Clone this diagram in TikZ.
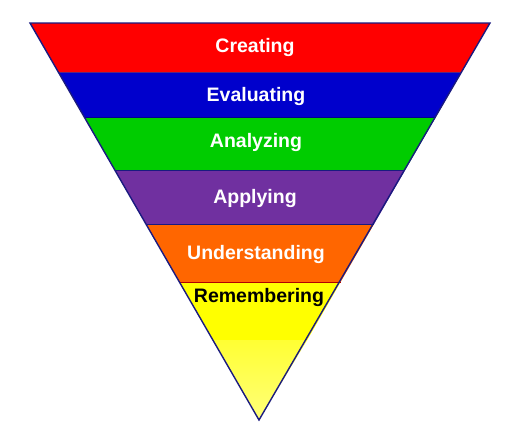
\documentclass[tikz,border=0pt]{standalone}
\usepackage{fontspec}
\setmainfont{Liberation Sans}
\begin{document}
\begin{tikzpicture}[x=1pt,y=-1pt,
  sep/.style={draw=#1, line width=0.8pt},
  lbl/.style={font=\fontsize{19.5}{21}\selectfont\bfseries, text=white, inner sep=0pt, anchor=center},
  outline/.style={draw=cEdge, line width=1.4pt, line join=miter}]
\useasboundingbox (0,0) rectangle (518,447);
\definecolor{cRed}{HTML}{FF0000}
\definecolor{cBlue}{HTML}{0000CC}
\definecolor{cGreen}{HTML}{00CC00}
\definecolor{cPurple}{HTML}{7030A0}
\definecolor{cOrange}{HTML}{FF6600}
\definecolor{cYellow}{HTML}{FFFF00}
\definecolor{cYellowL}{HTML}{FFFF40}
\definecolor{cEdge}{HTML}{1A1A80}
\coordinate (TL) at (30,23);
\coordinate (TR) at (490,23);
\coordinate (A) at (259,420);
% bands
\fill[cRed] (30,23) -- (490,23) -- (461.4,72.5) -- (58.6,72.5) -- cycle;
\fill[cBlue] (58.6,72.5) -- (461.4,72.5) -- (435.8,117) -- (84.2,117) -- cycle;
\fill[cGreen] (84.2,117) -- (435.8,117) -- (405.2,170) -- (114.8,170) -- cycle;
\fill[cPurple] (114.8,170) -- (405.2,170) -- (374.1,224) -- (145.9,224) -- cycle;
\fill[cOrange] (145.9,224) -- (374.1,224) -- (340.6,282) -- (179.4,282) -- cycle;
\fill[cYellow] (179.4,282) -- (340.6,282) -- (307.2,340) -- (212.8,340) -- cycle;
\shade[top color=cYellowL!80!cYellow, bottom color=cYellowL!70!white] (212.8,340) -- (307.2,340) -- (A) -- cycle;
% separators
\draw[sep=cPurple!80!black] (58.6,72.5) -- (461.4,72.5);
\draw[sep=cBlue!70!black] (84.2,117) -- (435.8,117);
\draw[sep=cEdge] (114.8,170) -- (405.2,170);
\draw[sep=cEdge] (145.9,224) -- (374.1,224);
\draw[sep=red!70!black] (179.4,282) -- (340.6,282);
% outline
\draw[outline] (TL) -- (TR) -- (A) -- cycle;
% labels
\node[lbl] (creating) at (255,48) {Creating};
\node[lbl] (evaluating) at (256,96) {Evaluating};
\node[lbl] (analyzing) at (256,142) {Analyzing};
\node[lbl] (applying) at (255,198) {Applying};
\node[lbl] (understanding) at (256,254) {Understanding};
\node[lbl, text=black] (remembering) at (259,297) {Remembering};
\end{tikzpicture}
\end{document}
